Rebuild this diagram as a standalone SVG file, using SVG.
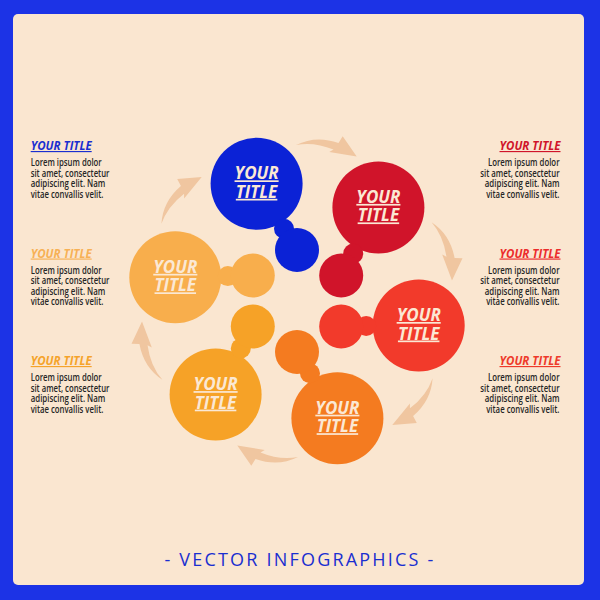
<svg xmlns="http://www.w3.org/2000/svg" width="600" height="600" viewBox="0 0 600 600">
<defs>
<style>
.ct{font-family:"Open Sans","Liberation Sans",sans-serif;font-weight:700;font-style:italic;font-size:17px;fill:#FBE8D4;text-anchor:middle;text-decoration:underline;}
.st{font-family:"Open Sans","Liberation Sans",sans-serif;font-weight:700;font-style:italic;font-size:11.5px;text-decoration:underline;}
.bd{font-family:"Open Sans","Liberation Sans",sans-serif;font-weight:600;font-size:10px;fill:#262626;}
.r{text-anchor:end;}
.arw{fill:#F0C6A0;}
</style>
<path id="arr" class="arw" d="M296,145 Q316,135 338.5,143 L342.7,136.3 L356.7,156.5 L329.3,152 L333.5,149.5 Q314,141.5 296,145 Z"/>
</defs>
<rect x="0" y="0" width="600" height="600" fill="#1C33E6"/>
<rect x="13" y="14" width="571" height="571" rx="5" fill="#FAE6D0"/>

<g id="connectors">
<use href="#arr"/>
<use href="#arr" transform="rotate(60 297 301)"/>
<use href="#arr" transform="rotate(120 297 301)"/>
<use href="#arr" transform="rotate(180 297 301)"/>
<use href="#arr" transform="rotate(240 297 301)"/>
<use href="#arr" transform="rotate(300 297 301)"/>
</g>

<g id="node1" fill="#0B22D6">
<circle cx="256.6" cy="183.8" r="46"/>
<circle cx="284" cy="228.7" r="10"/>
<circle cx="297" cy="250" r="22"/>
<text class="ct"><tspan x="256.6" y="179.3">YOUR</tspan><tspan x="256.6" y="197.8">TITLE</tspan></text>
</g>
<g id="node2" fill="#D0142A">
<circle cx="378.4" cy="207.4" r="46"/>
<circle cx="353.2" cy="253.6" r="10"/>
<circle cx="341.2" cy="275.5" r="22"/>
<text class="ct"><tspan x="378.4" y="202.9">YOUR</tspan><tspan x="378.4" y="221.4">TITLE</tspan></text>
</g>
<g id="node3" fill="#F23A2B">
<circle cx="418.7" cy="325.5" r="46"/>
<circle cx="366.2" cy="326" r="10"/>
<circle cx="341.2" cy="326.5" r="22"/>
<text class="ct"><tspan x="418.7" y="321">YOUR</tspan><tspan x="418.7" y="339.5">TITLE</tspan></text>
</g>
<g id="node4" fill="#F47B20">
<circle cx="337.4" cy="418.2" r="46"/>
<circle cx="310" cy="373.3" r="10"/>
<circle cx="297" cy="352" r="22"/>
<text class="ct"><tspan x="337.4" y="413.7">YOUR</tspan><tspan x="337.4" y="432.2">TITLE</tspan></text>
</g>
<g id="node5" fill="#F6A227">
<circle cx="215.6" cy="394.6" r="46"/>
<circle cx="240.8" cy="348.4" r="10"/>
<circle cx="252.8" cy="326.5" r="22"/>
<text class="ct"><tspan x="215.6" y="390.1">YOUR</tspan><tspan x="215.6" y="408.6">TITLE</tspan></text>
</g>
<g id="node6" fill="#F8AE4C">
<circle cx="175.3" cy="277.3" r="46"/>
<circle cx="227.8" cy="276.1" r="10"/>
<circle cx="252.8" cy="275.5" r="22"/>
<text class="ct"><tspan x="175.3" y="272.8">YOUR</tspan><tspan x="175.3" y="291.3">TITLE</tspan></text>
</g>

<g id="left-texts">
<text class="st" x="30.7" y="150" fill="#1A2FD0" textLength="61" lengthAdjust="spacingAndGlyphs">YOUR TITLE</text>
<text class="bd"><tspan x="30.7" y="166" textLength="71" lengthAdjust="spacingAndGlyphs">Lorem ipsum dolor</tspan><tspan x="30.7" y="176.6" textLength="78.7" lengthAdjust="spacingAndGlyphs">sit amet, consectetur</tspan><tspan x="30.7" y="187.2" textLength="74.7" lengthAdjust="spacingAndGlyphs">adipiscing elit. Nam</tspan><tspan x="30.7" y="197.8" textLength="72.7" lengthAdjust="spacingAndGlyphs">vitae convallis velit.</tspan></text>

<text class="st" x="30.7" y="257.5" fill="#F7B155" textLength="61" lengthAdjust="spacingAndGlyphs">YOUR TITLE</text>
<text class="bd"><tspan x="30.7" y="273.5" textLength="71" lengthAdjust="spacingAndGlyphs">Lorem ipsum dolor</tspan><tspan x="30.7" y="284.1" textLength="78.7" lengthAdjust="spacingAndGlyphs">sit amet, consectetur</tspan><tspan x="30.7" y="294.7" textLength="74.7" lengthAdjust="spacingAndGlyphs">adipiscing elit. Nam</tspan><tspan x="30.7" y="305.3" textLength="72.7" lengthAdjust="spacingAndGlyphs">vitae convallis velit.</tspan></text>

<text class="st" x="30.7" y="365" fill="#F5A32A" textLength="61" lengthAdjust="spacingAndGlyphs">YOUR TITLE</text>
<text class="bd"><tspan x="30.7" y="381" textLength="71" lengthAdjust="spacingAndGlyphs">Lorem ipsum dolor</tspan><tspan x="30.7" y="391.6" textLength="78.7" lengthAdjust="spacingAndGlyphs">sit amet, consectetur</tspan><tspan x="30.7" y="402.2" textLength="74.7" lengthAdjust="spacingAndGlyphs">adipiscing elit. Nam</tspan><tspan x="30.7" y="412.8" textLength="72.7" lengthAdjust="spacingAndGlyphs">vitae convallis velit.</tspan></text>
</g>

<g id="right-texts">
<text class="st r" x="560.5" y="150" fill="#D0142A" textLength="61" lengthAdjust="spacingAndGlyphs">YOUR TITLE</text>
<text class="bd r"><tspan x="559.5" y="166" textLength="71.5" lengthAdjust="spacingAndGlyphs">Lorem ipsum dolor</tspan><tspan x="559.5" y="176.6" textLength="79.3" lengthAdjust="spacingAndGlyphs">sit amet, consectetur</tspan><tspan x="559.5" y="187.2" textLength="74.7" lengthAdjust="spacingAndGlyphs">adipiscing elit. Nam</tspan><tspan x="559.5" y="197.8" textLength="73.3" lengthAdjust="spacingAndGlyphs">vitae convallis velit.</tspan></text>

<text class="st r" x="560.5" y="257.5" fill="#EC2C2C" textLength="61" lengthAdjust="spacingAndGlyphs">YOUR TITLE</text>
<text class="bd r"><tspan x="559.5" y="273.5" textLength="71.5" lengthAdjust="spacingAndGlyphs">Lorem ipsum dolor</tspan><tspan x="559.5" y="284.1" textLength="79.3" lengthAdjust="spacingAndGlyphs">sit amet, consectetur</tspan><tspan x="559.5" y="294.7" textLength="74.7" lengthAdjust="spacingAndGlyphs">adipiscing elit. Nam</tspan><tspan x="559.5" y="305.3" textLength="73.3" lengthAdjust="spacingAndGlyphs">vitae convallis velit.</tspan></text>

<text class="st r" x="560.5" y="365" fill="#EE3A2A" textLength="61" lengthAdjust="spacingAndGlyphs">YOUR TITLE</text>
<text class="bd r"><tspan x="559.5" y="381" textLength="71.5" lengthAdjust="spacingAndGlyphs">Lorem ipsum dolor</tspan><tspan x="559.5" y="391.6" textLength="79.3" lengthAdjust="spacingAndGlyphs">sit amet, consectetur</tspan><tspan x="559.5" y="402.2" textLength="74.7" lengthAdjust="spacingAndGlyphs">adipiscing elit. Nam</tspan><tspan x="559.5" y="412.8" textLength="73.3" lengthAdjust="spacingAndGlyphs">vitae convallis velit.</tspan></text>
</g>

<text x="300" y="566" font-family="'Open Sans','Liberation Sans',sans-serif" font-size="18" letter-spacing="2.2" fill="#1A2FD0" text-anchor="middle">- VECTOR INFOGRAPHICS -</text>
</svg>
